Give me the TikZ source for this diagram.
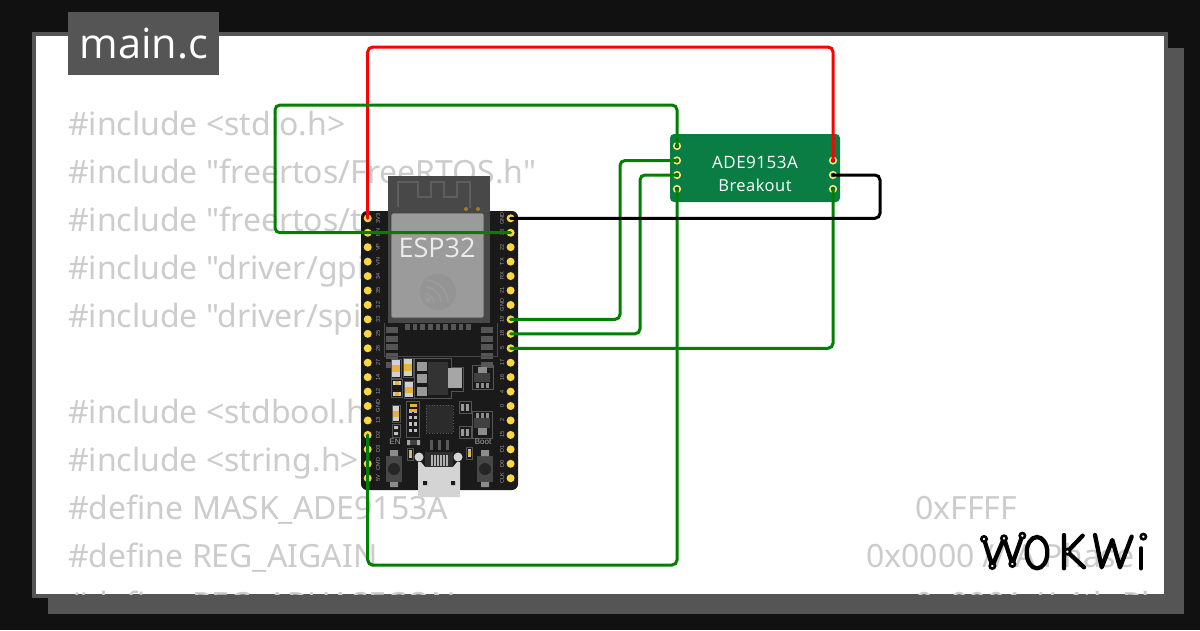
\documentclass[tikz,border=0pt]{standalone}
\usepackage{fontspec}
\setmainfont{Open Sans}[Ligatures=TeXOff]
\newfontfamily\codefont{Noto Sans}[Ligatures=TeXOff]
\newfontfamily\modfont{Open Sans}[LetterSpace=3]
\newfontfamily\labelfont{Liberation Sans}
\definecolor{bgdark}{HTML}{111111}
\definecolor{cardgray}{HTML}{555555}
\definecolor{codegray}{HTML}{CCCCCC}
\definecolor{pcbblack}{HTML}{1A1A1A}
\definecolor{pinyellow}{HTML}{F9D73E}
\definecolor{modgreen}{HTML}{0A7D45}
\definecolor{wiregreen}{HTML}{008000}
\definecolor{padgray}{HTML}{555555}
\definecolor{cangray}{HTML}{9B9B9B}
\definecolor{shellgray}{HTML}{484848}
\definecolor{usbgray}{HTML}{D4D4D4}
\definecolor{ledamber}{HTML}{E8B23A}
\begin{document}
\begin{tikzpicture}[x=1pt,y=-1pt,
        codeline/.style={anchor=base west, inner sep=0pt, text=codegray, font=\codefont\fontsize{32}{32}\selectfont},
        pinpad/.style={circle, fill=pinyellow, minimum size=8pt, inner sep=0pt},
        modpin/.style={circle, draw=pinyellow!70!white, line width=1.6pt, fill=modgreen!60!black, minimum size=6.5pt, inner sep=0pt},
        pinname/.style={rotate=90, text=white!62!black, inner sep=0pt, font=\labelfont\fontsize{5.5}{5.5}\selectfont},
        wire/.style={line width=3pt, rounded corners=5pt, line cap=round},
        outline/.style={draw=padgray, line width=0.8pt},
        logo/.style={draw=black, line width=4.3pt, line cap=round, line join=round}
    ]
    \useasboundingbox (0,0) rectangle (1200,630);
    % card
    \fill[bgdark] (0,0) rectangle (1200,630);
    \fill[cardgray] (48,48) rectangle (1184,614);
    \fill[cardgray] (32,32) rectangle (1168,598);
    \fill[white] (36,36) rectangle (1164,594);
    % code behind the board
    \begin{scope}
        \clip (36,36) rectangle (1164,594);
        \foreach \y/\txt in {135/{\#include <stdio.h>}, 183/{\#include "freertos/FreeRTOS.h"},
                231/{\#include "freertos/task.h"}, 279/{\#include "driver/gpio.h"},
                327/{\#include "driver/spi\_master.h"}, 423/{\#include <stdbool.h>},
                471/{\#include <string.h>}, 519/{\#define MASK\_ADE9153A},
                567/{\#define REG\_AIGAIN}, 615/{\#define REG\_APHASECON}}
            \node[codeline] at (68,\y) {\txt};
        \node[codeline] at (915,519) {0xFFFF};
        \node[codeline] at (866,567) {0x0000 // A Phase};
        \node[codeline] at (915,615) {0x0001 // 4th Ph};
    \end{scope}
    \node[fill=cardgray, text=white, anchor=north west, minimum width=151pt, minimum height=63pt, inner sep=0pt,
        font=\fontsize{41.5}{41.5}\selectfont] (tab) at (68,12) {main.c};
    % board
    \fill[pcbblack, rounded corners=6pt] (361,211) rectangle (518,490);
    \fill[shellgray] (388,176) rectangle (490,323);
    \draw[white!37!black, line width=1.6pt] (398,207) -- (398,182) -- (418,182) -- (418,197) -- (431,197) -- (431,182) -- (444,182) -- (444,197) -- (457,197) -- (457,182) -- (470,182) -- (470,208);
    \fill[ledamber!70!black] (466,209) circle (2pt) (478,209) circle (2pt);
    \fill[cangray, draw=black!75, line width=0.7pt, rounded corners=1.5pt] (391,213) rectangle (484,318);
    \node[text=white!92!black, inner sep=0pt, font=\fontsize{27}{27}\selectfont] (espname) at (437,248) {ESP32};
    % espressif mark
    \fill[black!42] (438,292) circle (18pt);
    \foreach \r in {9,16,23}
        \draw[cangray, line width=1.8pt] (425,303-\r) .. controls (425+.55*\r,303-\r) and (425+\r,303-.55*\r) .. (425+\r,303);
    \fill[cangray] (428,300) circle (3pt);
    % module pads
    \foreach \n in {0,...,8}
        \fill[padgray] (405+\n*7.67,324) rectangle ++(4.6,6);
    \foreach \n in {0,...,4} {
        \fill[padgray] (386,327+\n*8.7) rectangle ++(12,6);
        \fill[padgray] (481,327+\n*8.7) rectangle ++(12,6);
    }
    \draw[shellgray, line width=0.7pt] (384,323) -- (384,356) -- (497,356) -- (497,323);
    % small parts
    \foreach \x/\y/\w/\h in {392/360/8/17, 404/359/8/17, 405/382/8/15, 393/406/6/15} {
        \draw[outline] (\x-1,\y-1) rectangle ++(\w+2,\h+2);
        \fill[white!82!black] (\x,\y) rectangle ++(\w,\h);
        \fill[ledamber] (\x,\y+.3*\h) rectangle ++(\w,.4*\h);
    }
    \draw[outline] (391,379) rectangle (402,397);
    \foreach \y in {381,392} {
        \fill[white!82!black] (393,\y) rectangle ++(8,4);
        \fill[ledamber] (395,\y) rectangle ++(4,4);
    }
    % regulator
    \draw[outline] (414,358) -- (451,358) -- (451,367) -- (463,367) -- (463,391) -- (451,391) -- (451,398) -- (414,398) -- cycle;
    \foreach \y in {362,374,387}
        \fill[white!60!black] (417,\y) rectangle ++(10,9);
    \fill[white!20!black] (428,362) rectangle (448,395);
    \fill[white!65!black] (448,368) rectangle (462,388);
    % sot parts
    \draw[outline] (472,365) rectangle (493,389);
    \fill[white!55!black] (478,367) rectangle (487,373);
    \fill[white!25!black] (474,373) rectangle (490,382);
    \foreach \x in {476,481,486} \fill[white!55!black] (\x,383) rectangle ++(3,4.5);
    \draw[outline] (472,411) rectangle (492,438);
    \fill[white!55!black] (478,428) rectangle (487,435);
    \fill[white!25!black] (474,418) rectangle (490,428);
    \foreach \x in {476,481,486} \fill[white!55!black] (\x,413) rectangle ++(3,4.5);
    % chip and small packs
    \fill[white!17!black] (426,405) rectangle (453,433);
    \draw[white!35!black, line width=0.8pt, dotted] (426,405) rectangle (453,433);
    \draw[outline] (406,401) rectangle (419,437);
    \foreach \n in {0,...,3} {
        \fill[white!75!black] (409,409+\n*6.5) rectangle ++(3,3.5);
        \fill[white!75!black] (414,409+\n*6.5) rectangle ++(3,3.5);
    }
    \fill[ledamber] (410,403.5) rectangle ++(7,3.5);
    \fill[ledamber] (410,409) rectangle ++(7,3);
    \draw[outline] (392,424) rectangle (400,437);
    \fill[white!75!black] (394,426) rectangle ++(4,3) (394,432) rectangle ++(4,3);
    \foreach \y in {401,426} {
        \draw[outline] (459,\y) rectangle ++(12,12);
        \fill[white!60!black] (461,\y+2.5) rectangle ++(8,7);
        \fill[white!15!black] (464,\y+2.5) rectangle ++(2,7);
    }
    \fill[white!25!black] (407,440) rectangle (420,445);
    \fill[white!65!black] (407,440) rectangle ++(3,5) (417,440) rectangle ++(3,5);
    \foreach \x in {430,438,446} \fill[white!35!black] (\x,440) rectangle ++(3,10);
    \foreach \x/\y in {407/448, 466/447} {
        \draw[outline] (\x,\y) rectangle ++(6.5,12);
        \fill[white!75!black] (\x+1.5,\y+2) rectangle ++(3.5,8);
        \fill[ledamber] (\x+1.5,\y+4) rectangle ++(3.5,4);
    }
    % buttons
    \foreach \x/\tx/\txt/\nm in {394/395/EN/btnen, 485/483/Boot/btnboot} {
        \node[text=white!65!black, inner sep=0pt, font=\labelfont\fontsize{8}{8}\selectfont] (\nm) at (\tx,442) {\txt};
        \fill[white!28!black] (\x-8,456) rectangle (\x+8,482);
        \fill[white!55!black] (\x-4,450) rectangle (\x+4,456) (\x-4,482) rectangle (\x+4,487);
        \fill[white!15!black] (\x,469) circle (6pt);
    }
    % usb socket
    \fill[white!18!black] (425,452) rectangle (453,468);
    \foreach \n in {0,...,5}
        \fill[white!70!black] (431+\n*3,455) rectangle ++(1.5,11);
    \fill[usbgray] (419,457) circle (4.5pt) (458,457) circle (4.5pt);
    \fill[usbgray] (418,462) -- (421,462) -- (425,467) -- (453,467) -- (457,462) -- (460,462) -- (460,497) -- (418,497) -- cycle;
    \fill[pcbblack] (423,481) rectangle ++(4,4) (451,481) rectangle ++(4,4);
    % pins
    \foreach \nm [count=\n] in {3V3,EN,VP,VN,34,35,32,33,25,26,27,14,12,GND,13,D2,D3,CMD,5V} {
        \node[pinpad] (pinL\n) at (367.7,{218.3+(\n-1)*14.44}) {};
        \node[pinname] (nameL\n) at (378,{218.3+(\n-1)*14.44}) {\nm};
    }
    \foreach \nm [count=\n] in {GND,23,22,TX,RX,21,GND,19,18,5,17,16,4,0,2,15,D1,D0,CLK} {
        \node[pinpad] (pinR\n) at (510.6,{218.3+(\n-1)*14.44}) {};
        \node[pinname] (nameR\n) at (502,{218.3+(\n-1)*14.44}) {\nm};
    }
    % breakout
    \node[fill=modgreen, rounded corners=4pt, minimum width=170pt, minimum height=68pt, inner sep=0pt] (breakout) at (755,168) {};
    \node[text=white, inner sep=0pt, font=\modfont\fontsize{17}{17}\selectfont] (adename) at (755,162) {ADE9153A};
    \node[text=white, inner sep=0pt, font=\modfont\fontsize{16.5}{17}\selectfont] (breakname) at (755,185) {Breakout};
    \foreach \n/\y in {1/146,2/160.5,3/175,4/189}
        \node[modpin] (modL\n) at (677,\y) {};
    \foreach \n/\y in {1/160.5,2/175,3/189}
        \node[modpin] (modR\n) at (833,\y) {};
    % wires
    \draw[wire, red] (pinL1.center) |- (833,47) -- (modR1.center);
    \draw[wire, wiregreen] (pinR2.center) -| (275,105) -| (modL1.center);
    \draw[wire, wiregreen] (pinR8.center) -| (620,160.5) -- (modL2.center);
    \draw[wire, wiregreen] (pinR9.center) -| (640,175) -- (modL3.center);
    \draw[wire, wiregreen] (pinR10.center) -| (modR3.center);
    \draw[wire, wiregreen] (pinL16.center) |- (677,565) -- (modL4.center);
    \draw[wire, black] (pinR1.center) -| (880,175) -- (modR2.center);
    % logo
    \begin{scope}[shift={(860,490)},scale=1/3]
        \draw[logo] (372,147) -- (397,228) -- (432,145) -- (457,222) -- (487,137);
        \draw[logo] (531,188) ellipse[x radius=31pt, y radius=47pt];
        \draw[logo] (612,135) -- (612,235) (622,185) -- (668,137) (622,185) -- (672,232);
        \draw[logo] (705,135) -- (725,232) -- (757,150) -- (780,232) -- (815,140);
        \draw[logo] (843,175) -- (843,235);
        \foreach \x/\y in {372/147,397/228,432/145,457/222,487/137,622/185,850/140}
            \draw[black, line width=2.6pt, fill=white] (\x,\y) circle (8pt);
    \end{scope}
\end{tikzpicture}
\end{document}
